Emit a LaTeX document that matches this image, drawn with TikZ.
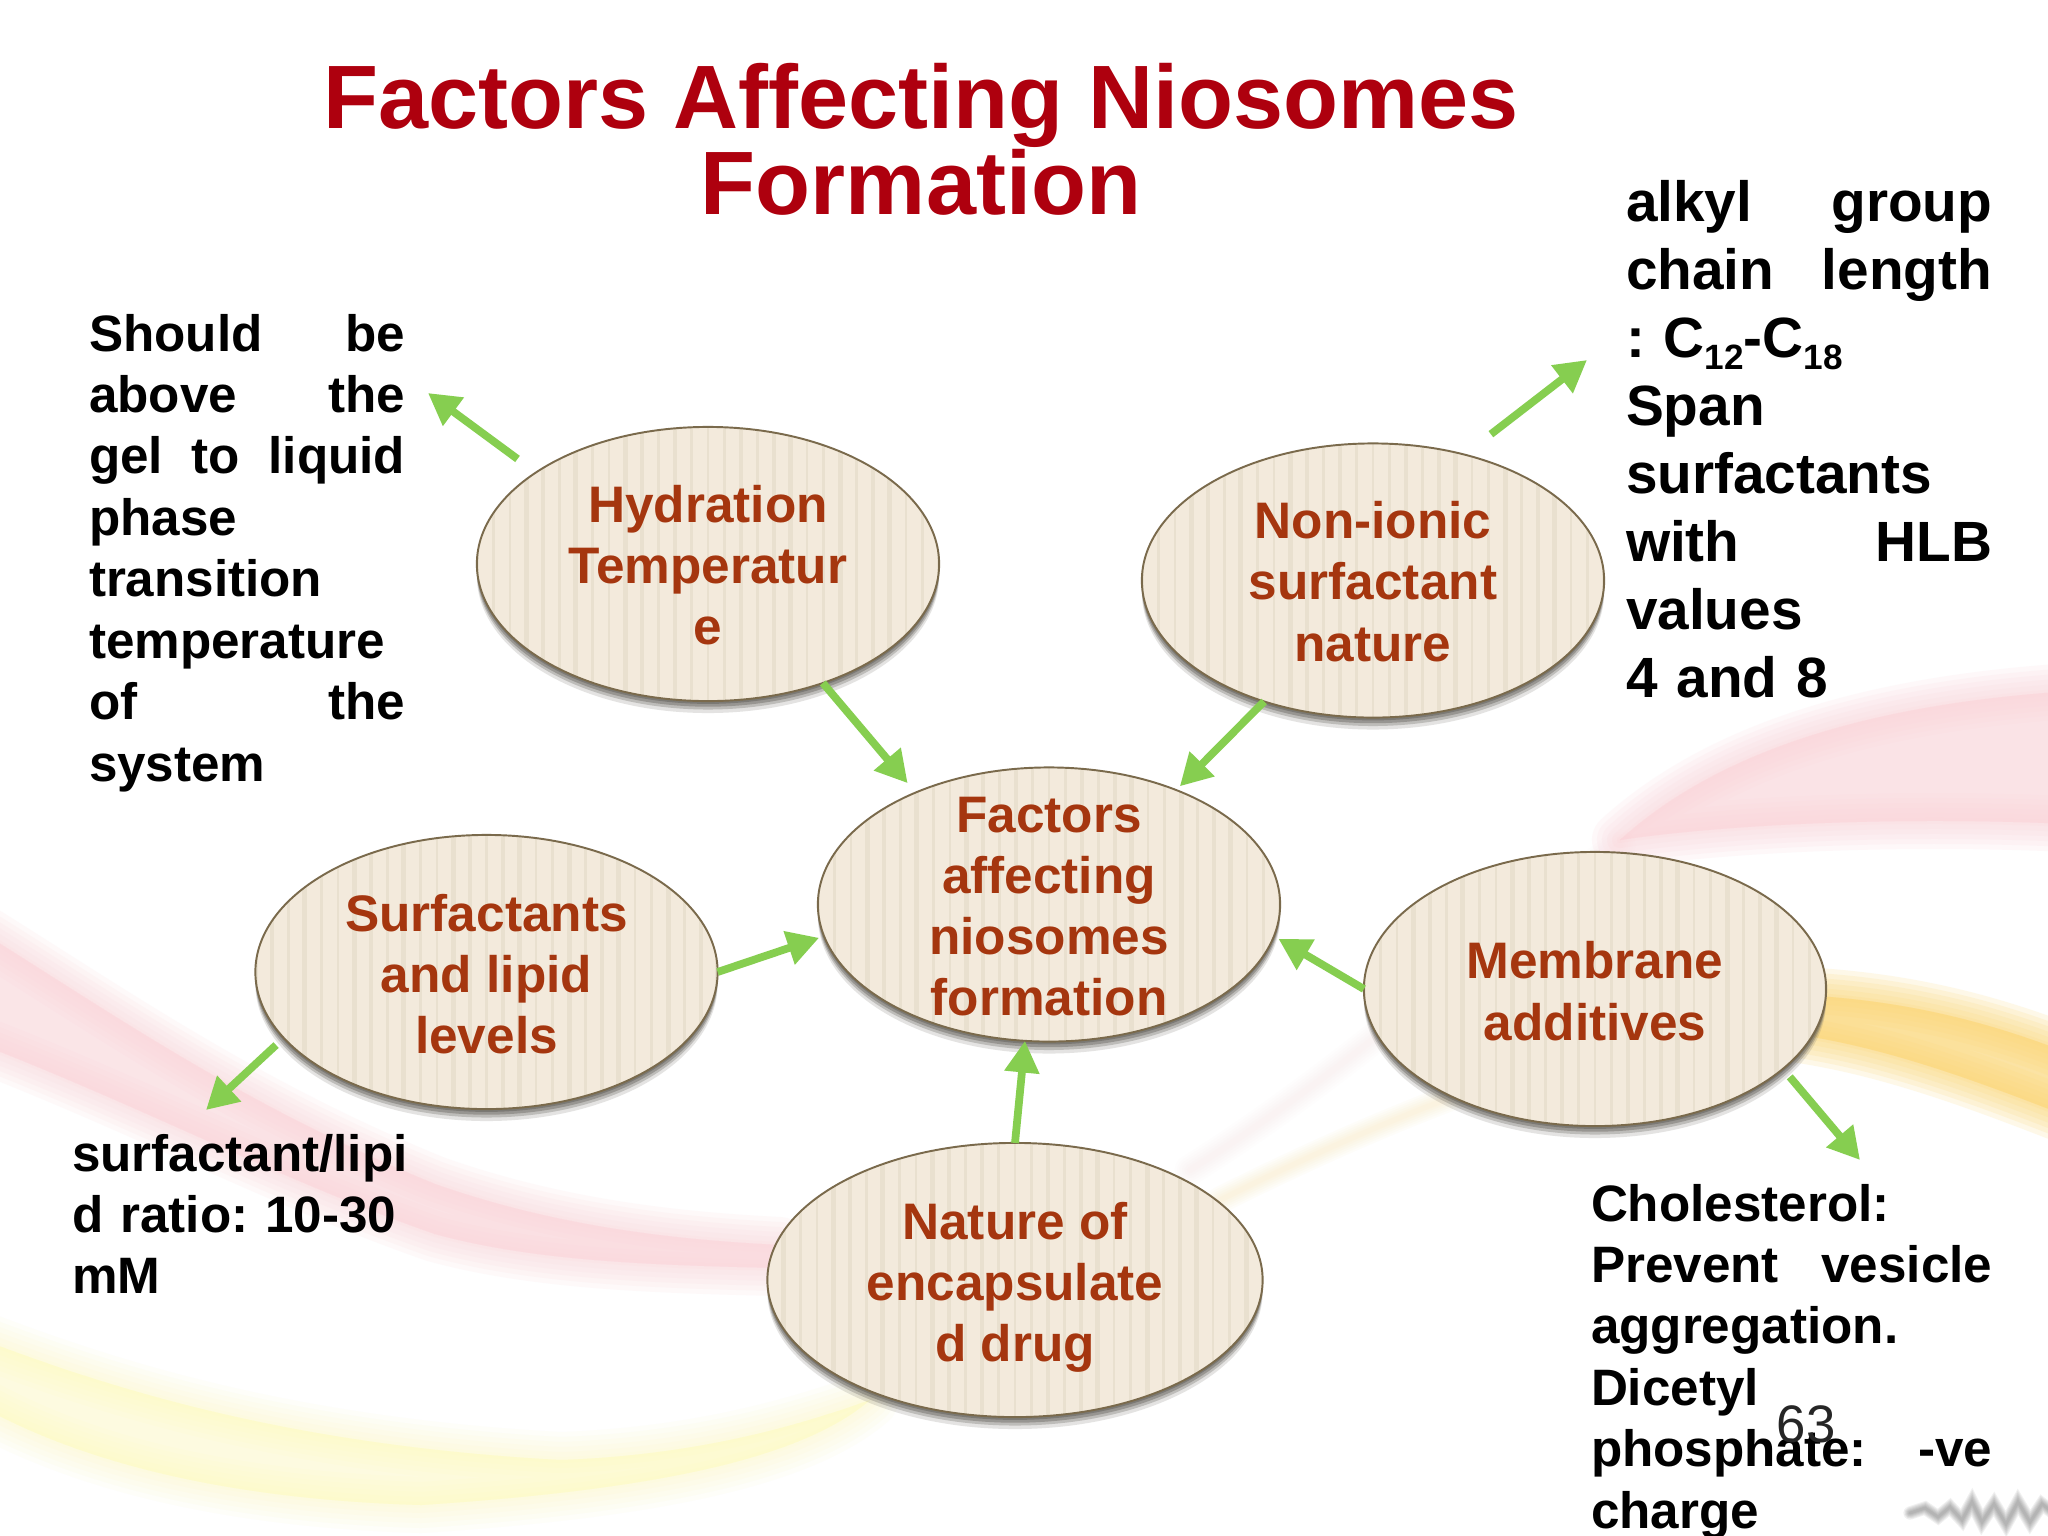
\documentclass[tikz,border=0pt]{standalone}
\usepackage{fontspec}
\setmainfont{Liberation Sans}
\usetikzlibrary{arrows.meta,shapes.geometric,shadows}
\definecolor{nodefill}{HTML}{F3EADC}
\definecolor{stripecol}{HTML}{E9E0CF}
\definecolor{nodeline}{HTML}{7A6A4C}
\definecolor{nodetext}{HTML}{A5360F}
\definecolor{arrowgreen}{HTML}{86CE50}
\definecolor{titlered}{HTML}{AE000E}
\definecolor{softpink}{HTML}{FAD6DB}
\definecolor{softyellow}{HTML}{FBD97A}
\definecolor{paleyellow}{HTML}{FDFAB0}
\newcommand{\softshape}[3]{%
  \foreach \w in {56,46,36,26,16,6}{\path[fill=#1,draw=#1,line join=round,line width=\w*0.2845pt,opacity=#2] #3;}}
\newcommand{\softline}[4]{%
  \foreach \w in {1.9,1.6,1.3,1,0.7,0.4}{\draw[#1,line cap=round,line width=\w*#3*0.2845pt,opacity=#2] #4;}}
\newcommand{\bodysize}{\fontsize{14.56}{17.47}\selectfont\bfseries\frenchspacing}
\newcommand{\firstline}[1]{\rule{0pt}{#1pt}}
\newcommand{\lowtext}[1]{\raisebox{-0.22em}{\fontsize{10}{10}\selectfont #1}}
\tikzset{
  factor/.style={ellipse,draw=nodeline,line width=0.55pt,fill=nodefill,
    minimum width=4.62cm,minimum height=2.74cm,inner sep=-12pt,outer sep=0pt,
    align=center,text=nodetext,font=\fontsize{14.6}{17.36}\selectfont\bfseries,
    drop shadow={shadow xshift=0pt,shadow yshift=-0.8pt,opacity=.45,fill=black!70!nodefill},
    drop shadow={shadow xshift=0pt,shadow yshift=-1.6pt,opacity=.40,fill=black!65!nodefill},
    drop shadow={shadow xshift=0pt,shadow yshift=-2.4pt,opacity=.30,fill=black!60!nodefill},
    drop shadow={shadow xshift=0pt,shadow yshift=-3.4pt,opacity=.20,fill=black!50!nodefill},
    path picture={\foreach \k in {-17,...,17}{
      \draw[stripecol,line width={0.7pt+0.35pt*mod(abs(\k),3)}]
        ([xshift=\k*0.165cm]path picture bounding box.north) --
        ([xshift=\k*0.165cm]path picture bounding box.south);}}},
  wide factor/.style={minimum width=4.95cm},
  flow/.style={arrowgreen,line width=2.2pt,-{Triangle[length=9pt,width=9.5pt]}},
  note/.style={anchor=north west,inner sep=0pt,outer sep=0pt,align=left,font=\bodysize,text=black},
}
\begin{document}
\begin{tikzpicture}[x=0.01cm,y=-0.01cm]
\useasboundingbox (0,0) rectangle (2048,1536);
\begin{scope}
\clip (0,0) rectangle (2048,1536);
\fill[white] (0,0) rectangle (2048,1536);
% soft background bands
\softshape{softpink}{.15}{(2090,690) .. controls (1900,700) and (1730,740) .. (1620,840) .. controls (1720,825) and (1900,815) .. (2090,825) -- cycle}
\softline{softpink}{.045}{16}{(1620,845) .. controls (1500,930) and (1350,1070) .. (1190,1170)}
\softshape{softyellow}{.17}{(1800,995) .. controls (1900,1000) and (1990,1020) .. (2090,1062) -- (2090,1125) .. controls (2000,1090) and (1900,1050) .. (1800,1035) -- cycle}
\softline{softyellow}{.04}{14}{(1800,1010) .. controls (1600,1030) and (1400,1110) .. (1220,1200)}
\softshape{softpink}{.14}{(-30,925) .. controls (100,1005) and (240,1105) .. (435,1184) .. controls (560,1228) and (680,1240) .. (780,1245) -- (780,1268) .. controls (640,1265) and (530,1260) .. (435,1234) .. controls (280,1180) and (140,1105) .. (-30,1040) -- cycle}
\softshape{paleyellow}{.075}{(-30,1335) .. controls (100,1385) and (280,1445) .. (561,1460) .. controls (700,1455) and (800,1425) .. (870,1400) .. controls (800,1460) and (650,1490) .. (421,1505) .. controls (250,1500) and (90,1470) .. (-30,1400) -- cycle}
% blurred logo remnant
\softline{black!80}{.07}{7}{(1910,1513) -- (1925,1508) -- (1938,1517) -- (1950,1507) -- (1962,1520) -- (1972,1502) -- (1982,1522) -- (1994,1504) -- (2006,1524) -- (2018,1502) -- (2030,1522) -- (2042,1504) -- (2060,1518)}
\end{scope}

% title
\node[anchor=north,inner sep=0pt,align=center,text=titlered,
  font=\fontsize{25.6}{24.2}\selectfont\bfseries] (title) at (921,63)
  {Factors Affecting Niosomes\\Formation};

% nodes
\node[factor] (hyd) at (708,564) {\firstline{11.2}Hydration\\Temperatur\\e};
\node[factor] (non) at (1373,580.5) {\firstline{11.2}Non-ionic\\surfactant\\nature};
\node[factor] (fac) at (1049,904.5) {\firstline{11.2}Factors\\affecting\\niosomes\\formation};
\node[factor] (sur) at (486.5,972) {\firstline{11.8}Surfactants\\and lipid\\levels};
\node[factor] (mem) at (1595,989) {\firstline{11.8}Membrane\\additives};
\node[factor,wide factor] (nat) at (1015,1280) {\firstline{14.7}Nature of\\encapsulate\\d drug};

% free arrow ends
\coordinate (hydend) at (428,393);
\coordinate (nonend) at (1587,360);
\coordinate (surend) at (206,1110);
\coordinate (memend) at (1860,1160);

% connectors
\draw[flow,shorten >=3.5pt] (hyd.-46.8) -- (fac.140.3);
\draw[flow,shorten >=1.5pt] (non.-132.4) -- (fac.42.8);
\draw[flow,shorten >=1.5pt] (sur.0) -- (fac.188.7);
\draw[flow,shorten >=1.5pt] (mem.180) -- (fac.-8.2);
\draw[flow] (nat.90) -- (fac.-100.7);
\draw[flow,shorten <=6.5pt] (hyd.152.2) -- (hydend);
\draw[flow,shorten <=9.5pt] (non.54.1) -- (nonend);
\draw[flow,shorten <=3pt] (sur.198) -- (surend);
\draw[flow,shorten <=3pt] (mem.-23.6) -- (memend);

% notes
\node[note,text width=3.16cm] (n1) at (89,314)
 {Should\hfill be\\above\hfill the\\gel\hfill to\hfill liquid\\phase\\transition\\temperature\\of\hfill the\\system};
\node[note,text width=3.66cm,font=\fontsize{16.14}{19.35}\selectfont\bfseries\frenchspacing] (n2) at (1626,180)
 {alkyl\hfill group\\chain\hfill length\\: C\lowtext{12}-C\lowtext{18}\\Span\\surfactants\\with\hfill HLB\\values\\4 and 8};
\node[note,text width=3.4cm] (n3) at (72,1134)
 {surfactant/lipi\\d ratio: 10-30\\mM};
\node[note,text width=4.01cm] (n4) at (1591,1184)
 {Cholesterol:\\Prevent\hfill vesicle\\aggregation.\\Dicetyl\\phosphate:\hfill -ve\\charge};
\node[inner sep=0pt,text=black!85,font=\fontsize{15}{18}\selectfont] (page) at (1806,1424) {63};
\end{tikzpicture}
\end{document}
